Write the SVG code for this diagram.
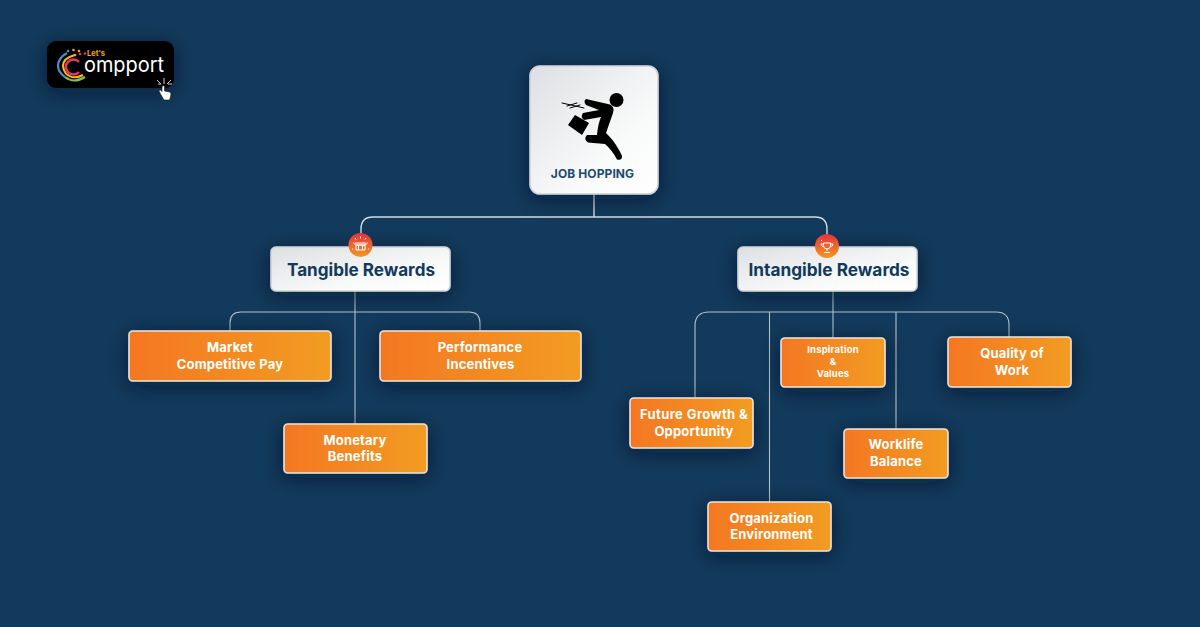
<svg xmlns="http://www.w3.org/2000/svg" width="1200" height="627" viewBox="0 0 1200 627">
<style>
text{font-family:Inter,"Liberation Sans",sans-serif;text-anchor:middle}
.o{fill:url(#og);stroke:#e6e3df;stroke-width:1.6;filter:url(#sh)}
.w{fill:url(#wg);stroke:#d0d4d8;stroke-width:1.6;filter:url(#sh)}
.ot{font-size:13px;font-weight:700;fill:#fff;letter-spacing:.18px}
.sm{font-size:9.5px}
.wt{font-size:17.5px;font-weight:700;fill:#123a5c}
.c{fill:none;stroke:#b5c1cc;stroke-width:1.1}
.c2{fill:none;stroke:#d5dbe0;stroke-width:1.4}
.ic{fill:none;stroke:#fff;stroke-width:1}
.b{fill:none;stroke:#000;stroke-linecap:round;stroke-linejoin:round}
</style>
<defs>
<linearGradient id="og" x1="0" x2="1" y1="0" y2="0"><stop offset="0" stop-color="#f47721"/><stop offset="1" stop-color="#f29c21"/></linearGradient>
<linearGradient id="wg" x1="0" x2="1" y1="0" y2="1"><stop offset="0" stop-color="#dde0e3"/><stop offset=".65" stop-color="#f9fafa"/><stop offset="1" stop-color="#fff"/></linearGradient>
<linearGradient id="rg" x1="0" x2="0" y1="0" y2="1"><stop offset="0" stop-color="#e5303f"/><stop offset="1" stop-color="#f39a1e"/></linearGradient>
<filter id="sh" x="-40%" y="-50%" width="180%" height="220%"><feDropShadow dx="0" dy="4" stdDeviation="10" flood-color="#04121f" flood-opacity=".6"/></filter>
</defs>
<rect width="1200" height="627" fill="#123a5c"/>

<g id="connectors">
<path class="c2" d="M594 194V217M594 217H373Q361 217 361 229V247M594 217H815Q827 217 827 229V247"/>
<path class="c" d="M355 291V424M230 331V323Q230 312 241 312H469Q480 312 480 323V331"/>
<path class="c" d="M833 291V338M695 398V326Q695 312 709 312H996Q1009 312 1009 325V337M769.500 312V502M896 312V429"/>
</g>

<g id="logo">
<rect x="47" y="41" width="127" height="47" rx="9" fill="#000" filter="url(#sh)"/>
<path d="M67 53Q58 58 58 66Q58 72 65 77" fill="none" stroke="#4a90c8" stroke-width="2.200"/>
<path d="M65 77Q74 84 85 77" fill="none" stroke="#8fbf4a" stroke-width="2.200"/>
<path d="M75 55Q63 58 63 66Q64 75 72 77Q78 78 83 75" fill="none" stroke="#f5b81e" stroke-width="2.200"/>
<path d="M79 62A7.500 7.500 0 1 0 79 72" fill="none" stroke="#e8336b" stroke-width="2.600"/>
<g fill="#f5a623"><circle cx="68" cy="51" r="1.300" fill="#4a90c8"/><circle cx="73.500" cy="50" r="1.300"/><circle cx="79" cy="51" r="1.300"/><circle cx="75" cy="55" r="1.300"/><circle cx="80" cy="54" r="1.300" fill="#e8336b"/><circle cx="85" cy="53.500" r="1.300" fill="#e8336b"/></g>
<text x="96" y="56" style="font-size:7.500px;font-weight:700;fill:#f5a623">Let's</text>
<text x="124" y="72" style="font-size:21px;font-weight:400;fill:#fff" textLength="80" lengthAdjust="spacingAndGlyphs">ompport</text>
<path d="M164 78v6M157 80l4 4M171 80l-4 4M158 84h3M168 84h4" stroke="#ccc" stroke-width="1" fill="none"/>
<path d="M164 100l-3.500-6-1.500-3q0-1.500 1.500-1l1.500 1.500v-5q1.500-1.500 2.500 0v4.500l5 1q1.500.5 1.500 2l-.5 3-1 3z" fill="#fff" stroke="#222" stroke-width=".7"/>
</g>

<g id="job-hopping">
<rect class="w" x="530" y="66" width="128" height="128" rx="10"/>
<circle cx="616.500" cy="100" r="7"/>
<path d="M586 99L610 104.500Q615 107 613 113L606 133Q613 140 616 145Q620 151 622 156Q622 161 617 159.500Q612 150 605 144Q596 143 588 142.500Q583 139 587 135L597 135Q598 124 601 117L584 120Q580 117 583 113L599 110L586 105Q583 101 586 99Z"/>
<path class="b" stroke-width="1" d="M562 103L584 108M567 106L577 103M570 108L580 105"/>
<path d="M575 115L589 123L582 135L568 125Z"/>
<text x="592.500" y="178" style="font-size:12px;font-weight:700;fill:#1d4a70;letter-spacing:.1px">JOB HOPPING</text>
</g>

<g id="tangible-rewards">
<rect class="w" x="271" y="247" width="179" height="44" rx="5"/>
<text x="361" y="276" class="wt" textLength="148" lengthAdjust="spacingAndGlyphs">Tangible Rewards</text>
<circle cx="360.500" cy="245" r="12" fill="url(#rg)"/>
<path class="ic" d="M356 245h9v5h-9zM355 243h11v2h-11zM358.500 245v5M362.500 245v5M355 238l1 1.500M360.500 236.500v2M366 238l-1 1.500M353 243h1M367 243h1M352 249h1M368 249h1"/>
</g>

<g id="intangible-rewards">
<rect class="w" x="738" y="247" width="179" height="44" rx="5"/>
<text x="829" y="276" class="wt" textLength="161" lengthAdjust="spacingAndGlyphs">Intangible Rewards</text>
<circle cx="827" cy="246" r="12" fill="url(#rg)"/>
<path class="ic" d="M823.500 243h7v2.500q0 3.500-3.500 3.500t-3.500-3.500zM823.500 244h-2.500q0 2.500 2.500 2.500M830.500 244h2.500q0 2.500-2.500 2.500M827 249v2M824 252.500h6M821 240l1 1"/>
</g>

<g id="market-pay"><rect class="o" x="129" y="331" width="202" height="50" rx="4"/>
<text class="ot" x="230" y="352">Market</text><text class="ot" x="230" y="369">Competitive Pay</text></g>
<g id="performance"><rect class="o" x="380" y="331" width="201" height="50" rx="4"/>
<text class="ot" x="480" y="352">Performance</text><text class="ot" x="480.500" y="369">Incentives</text></g>
<g id="monetary"><rect class="o" x="284" y="424" width="143" height="49" rx="4"/>
<text class="ot" x="355" y="445">Monetary</text><text class="ot" x="355" y="461">Benefits</text></g>
<g id="future-growth"><rect class="o" x="630" y="398" width="123" height="50" rx="4"/>
<text class="ot" x="694" y="419" textLength="108">Future Growth &amp;</text><text class="ot" x="694" y="436">Opportunity</text></g>
<g id="organization"><rect class="o" x="708" y="502" width="123" height="49" rx="4"/>
<text class="ot" x="771.500" y="523">Organization</text><text class="ot" x="771.500" y="539">Environment</text></g>
<g id="inspiration"><rect class="o" x="781" y="338" width="104" height="49" rx="4"/>
<text class="ot sm" x="833" y="353">Inspiration</text><text class="ot sm" x="833" y="365">&amp;</text><text class="ot sm" x="833" y="377">Values</text></g>
<g id="worklife"><rect class="o" x="844" y="429" width="104" height="49" rx="4"/>
<text class="ot" x="896" y="449">Worklife</text><text class="ot" x="896" y="466">Balance</text></g>
<g id="quality"><rect class="o" x="948" y="337" width="123" height="50" rx="4"/>
<text class="ot" x="1012" y="358">Quality of</text><text class="ot" x="1012" y="375">Work</text></g>
</svg>
